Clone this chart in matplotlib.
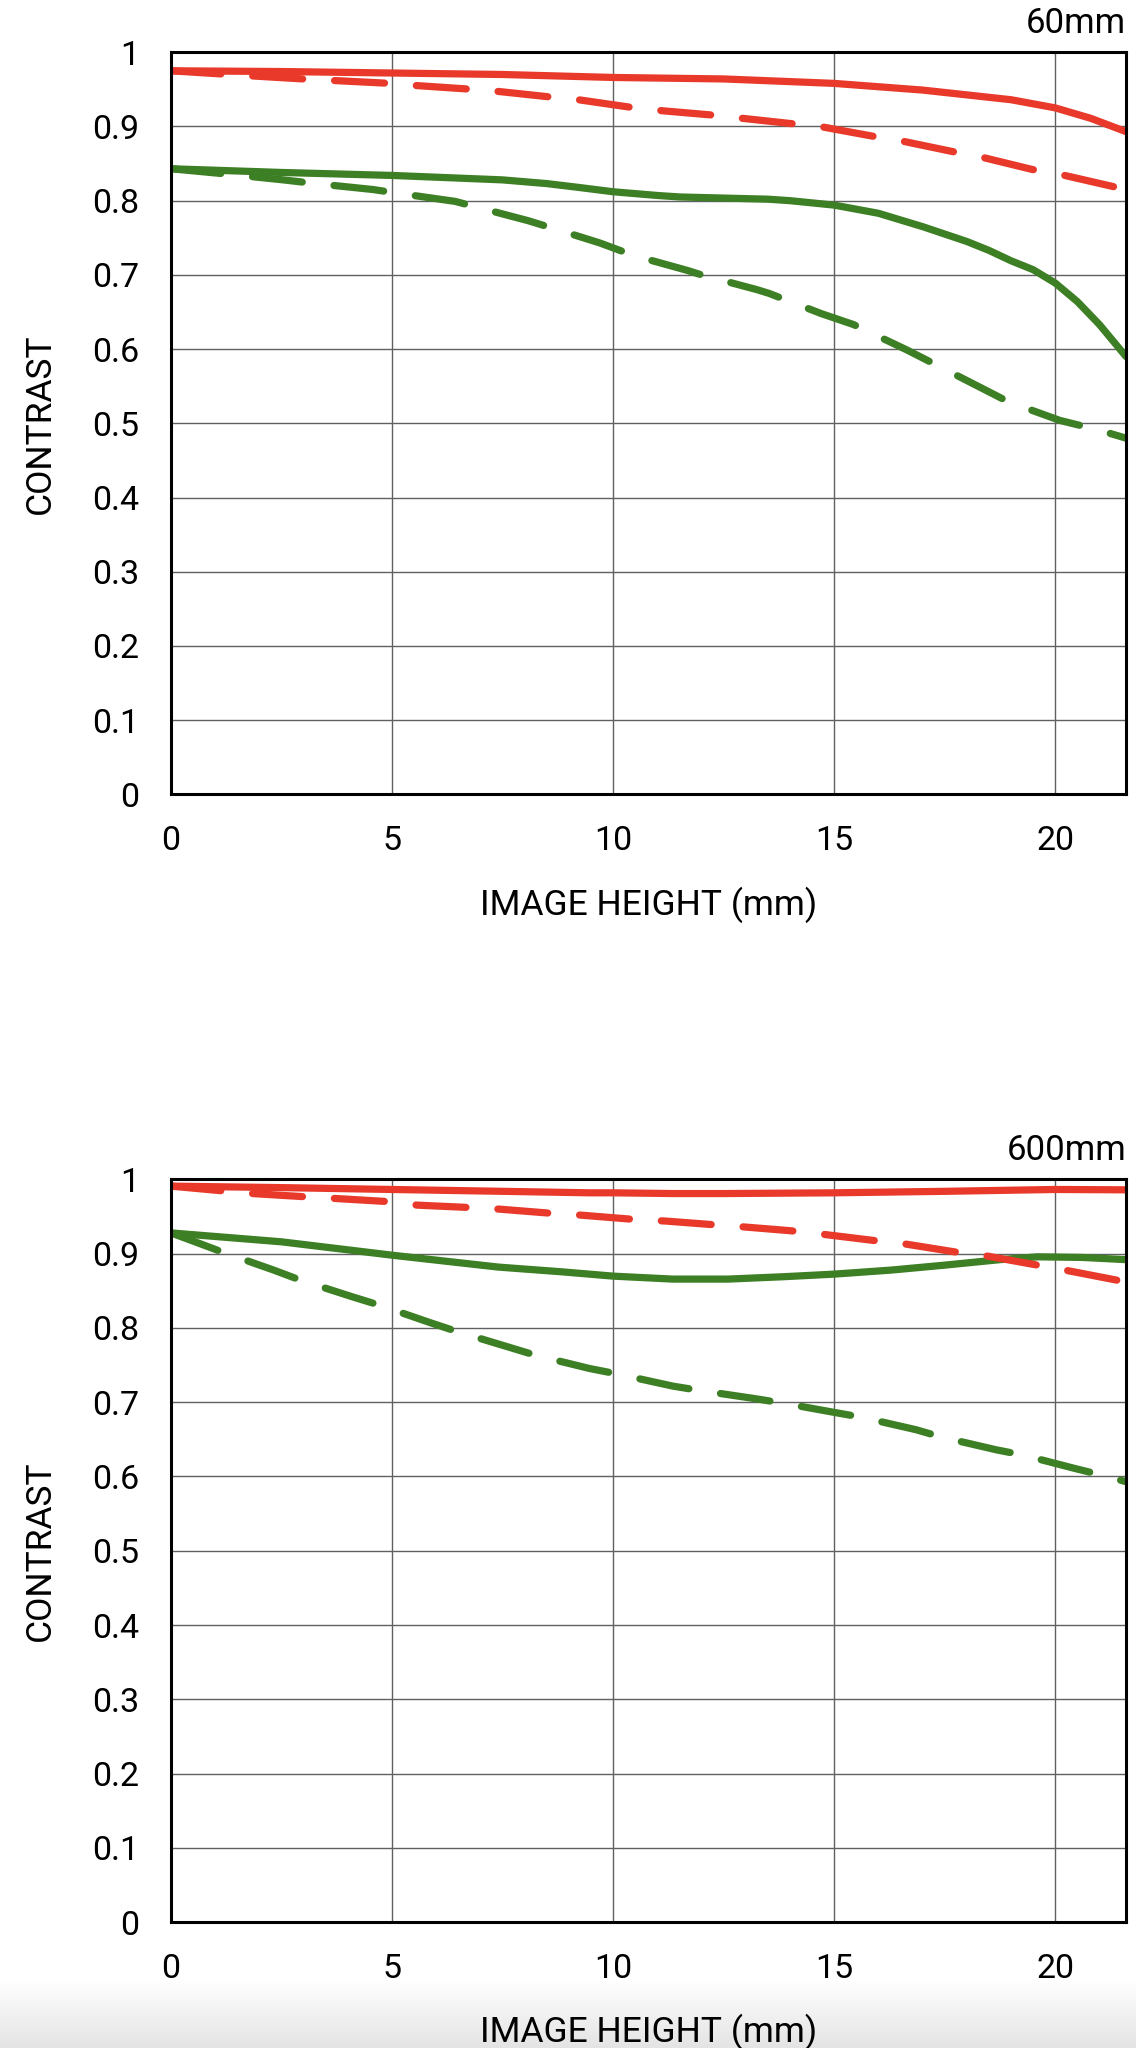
import numpy as np
import matplotlib
matplotlib.use("Agg")
import matplotlib.pyplot as plt
from matplotlib.colors import LinearSegmentedColormap

plt.rcParams["font.family"] = ["Roboto", "DejaVu Sans"]
plt.rcParams["lines.scale_dashes"] = False

RED = "#e8392a"
GREEN = "#3d7f24"

# 60mm panel: image height (mm) vs contrast
x_60_red_solid = [0, 2.5, 5, 7.5, 10, 12.5, 15, 17, 19, 20, 20.4, 20.8, 21.6]
y_60_red_solid = [0.975, 0.974, 0.972, 0.970, 0.966, 0.964, 0.958, 0.949, 0.936, 0.925, 0.918, 0.911, 0.893]

x_60_red_dash = [0, 1.85, 3.1, 3.71, 4.97, 5.57, 6.82, 7.43, 8.69, 9.26, 10.55, 11.14,
                 12.39, 12.76, 14.0, 14.61, 15.86, 16.48, 17.69, 18.31, 19.48, 20.14, 21.6]
y_60_red_dash = [0.975, 0.968, 0.9636, 0.9618, 0.958, 0.955, 0.950, 0.947, 0.939, 0.9356, 0.9245, 0.921,
                 0.9146, 0.912, 0.904, 0.9007, 0.887, 0.881, 0.866, 0.859, 0.842, 0.835, 0.815]

x_60_green_solid = [0, 2.5, 5, 7.5, 8.5, 9.2, 10, 11, 11.5, 12.5, 13.5, 14, 15, 16, 17, 18,
                    18.5, 19, 19.5, 20, 20.5, 21, 21.6]
y_60_green_solid = [0.843, 0.838, 0.834, 0.828, 0.823, 0.818, 0.812, 0.807, 0.805, 0.8035, 0.802, 0.800,
                    0.794, 0.783, 0.765, 0.745, 0.733, 0.719, 0.707, 0.689, 0.664, 0.633, 0.590]

x_60_green_dash = [0, 1.24, 2.54, 3.27, 4.57, 5.13, 6.43, 6.87, 8.08, 8.68, 9.7, 10.47, 11.68,
                   12.0, 13.26, 13.53, 14.7, 15.44, 16.64, 17.2, 18.35, 18.94, 20.1, 20.98, 21.6]
y_60_green_dash = [0.843, 0.836, 0.828, 0.823, 0.815, 0.810, 0.799, 0.792, 0.773, 0.762, 0.743, 0.726, 0.706,
                   0.700, 0.680, 0.675, 0.648, 0.633, 0.599, 0.582, 0.547, 0.529, 0.504, 0.491, 0.480]

# 600mm panel
x_600_red_solid = [0, 2.5, 5, 7.5, 9.46, 10, 11.35, 12.5, 15, 17.5, 20, 21.6]
y_600_red_solid = [0.991, 0.989, 0.9865, 0.984, 0.982, 0.982, 0.981, 0.981, 0.982, 0.984, 0.9865, 0.986]

x_600_red_dash = [0, 1.84, 3.06, 3.71, 4.96, 5.57, 6.82, 7.43, 8.69, 9.26, 10.51, 11.18,
                  12.39, 12.76, 14.0, 14.63, 15.87, 16.51, 17.72, 18.35, 19.6, 20.21, 21.6]
y_600_red_dash = [0.991, 0.981, 0.9766, 0.9744, 0.970, 0.9654, 0.962, 0.960, 0.954, 0.952, 0.946, 0.944,
                  0.9385, 0.937, 0.931, 0.927, 0.918, 0.914, 0.9025, 0.898, 0.8846, 0.878, 0.862]

x_600_green_solid = [0, 2.5, 5, 7.4, 8.84, 10, 11.35, 12.6, 13.85, 15, 16.3, 17.5, 18.75, 19.6, 20.6, 21.6]
y_600_green_solid = [0.928, 0.916, 0.898, 0.882, 0.8756, 0.8698, 0.8658, 0.8658, 0.869, 0.8725, 0.878,
                     0.8846, 0.892, 0.8958, 0.895, 0.892]

x_600_green_dash = [0, 0.59, 1.15, 2.32, 2.93, 4.1, 4.7, 5.87, 6.48, 7.65, 8.26, 9.46, 10.1, 11.35,
                    11.94, 13.19, 13.82, 15.03, 15.6, 16.85, 17.43, 18.66, 19.26, 20.43, 21.04, 21.6]
y_600_green_dash = [0.928, 0.915, 0.9025, 0.878, 0.8644, 0.842, 0.831, 0.807, 0.795, 0.774, 0.763, 0.7455,
                    0.738, 0.7217, 0.716, 0.705, 0.699, 0.686, 0.680, 0.663, 0.653, 0.636, 0.629, 0.611,
                    0.602, 0.593]

x_ticks = [0, 5, 10, 15, 20]
y_ticks = [0, 0.1, 0.2, 0.3, 0.4, 0.5, 0.6, 0.7, 0.8, 0.9, 1.0]
y_tick_labels = ["0", "0.1", "0.2", "0.3", "0.4", "0.5", "0.6", "0.7", "0.8", "0.9", "1"]

panels = [
    ("60mm", [0.1505, 0.6121, 0.8407, 0.3624],
     (x_60_red_solid, y_60_red_solid), (x_60_red_dash, y_60_red_dash),
     (x_60_green_solid, y_60_green_solid), (x_60_green_dash, y_60_green_dash)),
    ("600mm", [0.1505, 0.0615, 0.8407, 0.3626],
     (x_600_red_solid, y_600_red_solid), (x_600_red_dash, y_600_red_dash),
     (x_600_green_solid, y_600_green_solid), (x_600_green_dash, y_600_green_dash)),
]

fig = plt.figure(figsize=(11.36, 20.48), dpi=100)

# faint grey fade along the bottom edge, as in the screenshot
bg = fig.add_axes([0, 0, 1, 68 / 2048], zorder=-1)
fade = LinearSegmentedColormap.from_list("fade", ["#ffffff", "#e4e4e4"])
bg.imshow(np.linspace(0, 1, 64).reshape(-1, 1), cmap=fade, aspect="auto")
bg.axis("off")

for title, rect, rs, rd, gs, gd in panels:
    ax = fig.add_axes(rect)
    dash = (0, (36, 23))
    lw = 5.2
    ax.plot(*gd, color=GREEN, lw=lw, linestyle=dash, dash_capstyle="round")
    ax.plot(*gs, color=GREEN, lw=lw, solid_capstyle="round", solid_joinstyle="round")
    ax.plot(*rd, color=RED, lw=lw, linestyle=dash, dash_capstyle="round")
    ax.plot(*rs, color=RED, lw=lw, solid_capstyle="round", solid_joinstyle="round")

    ax.set_xlim(0, 21.6)
    ax.set_ylim(0, 1)
    ax.set_xticks(x_ticks)
    ax.set_yticks(y_ticks)
    ax.set_yticklabels(y_tick_labels)
    ax.tick_params(length=0, labelsize=24.5)
    ax.tick_params(axis="x", pad=22)
    ax.tick_params(axis="y", pad=23)
    ax.grid(True, color="#606060", lw=1.0)
    ax.set_axisbelow(True)
    for sp in ax.spines.values():
        sp.set_linewidth(2.2)
        sp.set_color("black")

    ax.set_xlabel("IMAGE HEIGHT (mm)", fontsize=25.5, labelpad=21)
    ax.set_ylabel("CONTRAST", fontsize=25.5, labelpad=25)
    ax.set_title(title, loc="right", fontsize=25, pad=14)

fig.savefig("out.png", dpi=100, facecolor="white")
